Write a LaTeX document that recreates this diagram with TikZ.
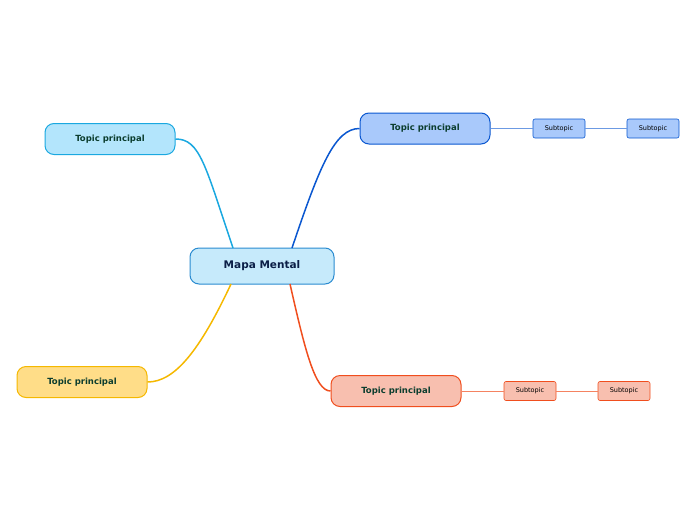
\documentclass[tikz,border=0pt]{standalone}
\usepackage{fontspec}
\setmainfont{DejaVu Sans}
\begin{document}
\begin{tikzpicture}[x=1pt,y=-1pt,
 box/.style={rounded corners=9pt,draw,line width=1pt,minimum width=130pt,minimum height=31pt,font=\bfseries\fontsize{8.5}{10}\selectfont,text=black!20!teal!60!black},
 sub/.style={rounded corners=2pt,draw,line width=0.6pt,minimum width=52pt,minimum height=19pt,font=\fontsize{6.5}{8}\selectfont,inner sep=1pt}]
\path[use as bounding box] (0,0) rectangle (696,520);
\definecolor{cfill}{HTML}{C6EAFB}\definecolor{cdraw}{HTML}{2A8BD0}
\definecolor{bfill}{HTML}{B3E5FC}\definecolor{bdraw}{HTML}{1AA8E0}
\definecolor{dfill}{HTML}{A9C9FB}\definecolor{ddraw}{HTML}{0A57D0}
\definecolor{yfill}{HTML}{FFDD88}\definecolor{ydraw}{HTML}{F5B800}
\definecolor{rfill}{HTML}{F8BFAF}\definecolor{rdraw}{HTML}{F04E1E}
\definecolor{txt}{HTML}{0B3D2E}
\node[box,fill=cfill,draw=cdraw,minimum width=144pt,minimum height=36pt,font=\bfseries\fontsize{10.5}{12}\selectfont,text={rgb,255:red,10;green,30;blue,70}] (c) at (262,266) {Mapa Mental};
\node[box,fill=bfill,draw=bdraw,text=txt] (tl) at (110,139) {Topic principal};
\node[box,fill=dfill,draw=ddraw,text=txt] (tr) at (425,128.5) {Topic principal};
\node[box,fill=yfill,draw=ydraw,text=txt] (bl) at (82,382) {Topic principal};
\node[box,fill=rfill,draw=rdraw,text=txt] (br) at (396,391) {Topic principal};
\node[sub,fill=dfill,draw=ddraw] (s1) at (559,128.5) {Subtopic};
\node[sub,fill=dfill,draw=ddraw] (s2) at (653,128.5) {Subtopic};
\node[sub,fill=rfill,draw=rdraw] (s3) at (530,391) {Subtopic};
\node[sub,fill=rfill,draw=rdraw] (s4) at (624,391) {Subtopic};
\draw[bdraw,line width=1.5pt] (233,248) .. controls (205,165) and (200,139) .. (tl.east);
\draw[ddraw,line width=1.5pt] (292,248) .. controls (320,165) and (335,128.5) .. (tr.west);
\draw[ydraw,line width=1.5pt] (231,284) .. controls (200,350) and (175,382) .. (bl.east);
\draw[rdraw,line width=1.5pt] (290,284) .. controls (305,350) and (315,391) .. (br.west);
\draw[ddraw!60,line width=0.7pt] (tr.east) -- (s1.west) (s1.east) -- (s2.west);
\draw[rdraw!70,line width=0.7pt] (br.east) -- (s3.west) (s3.east) -- (s4.west);
\end{tikzpicture}
\end{document}
